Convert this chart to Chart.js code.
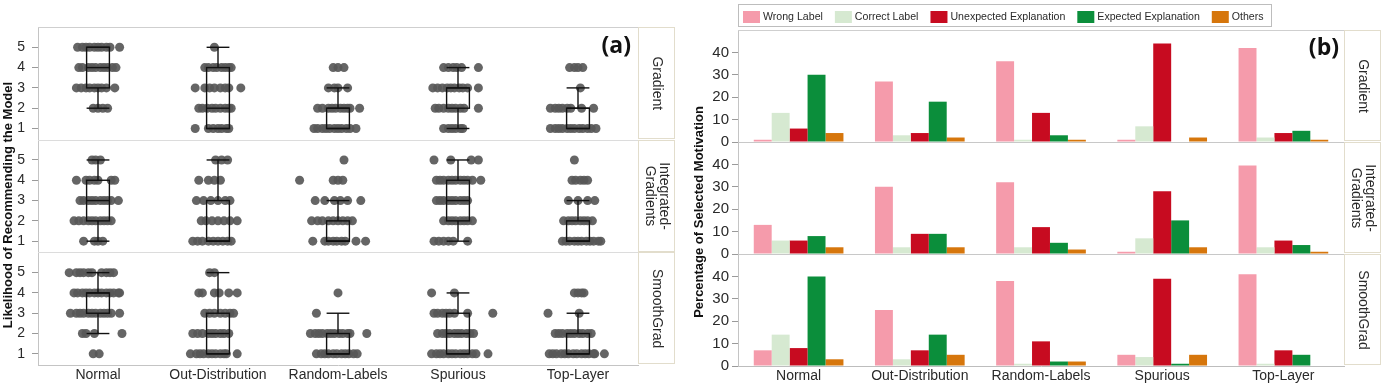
<!DOCTYPE html>
<html><head><meta charset="utf-8">
<script src="https://cdn.jsdelivr.net/npm/chart.js@4.4.1/dist/chart.umd.min.js"></script>
<style>
html,body{margin:0;padding:0;background:#fff;}
#wrap{position:relative;width:1383px;height:384px;overflow:hidden;background:#fff;}
#left{position:absolute;left:0;top:0;}
#right{position:absolute;left:690px;top:0;}
</style></head><body>
<div id="wrap"><canvas id="left" width="690" height="384"></canvas><canvas id="right" width="693" height="384"></canvas></div>
<script>
// ---------------- data ----------------
const categories = ['Normal', 'Out-Distribution', 'Random-Labels', 'Spurious', 'Top-Layer'];
const methods = ['Gradient', 'Integrated-Gradients', 'SmoothGrad'];
const methodStripLabels = [['Gradient'], ['Integrated-', 'Gradients'], ['SmoothGrad']];
const likertTicks = [1, 2, 3, 4, 5];
const pctTicks = [0, 10, 20, 30, 40];
const motivations = ['Wrong Label', 'Correct Label', 'Unexpected Explanation', 'Expected Explanation', 'Others'];
const motivationColors = ['#f59bab', '#d6e9d1', '#c70b20', '#0b8e3b', '#d6760c'];

// percentage of selected motivation: rows = motivation, columns = category
const pctGradient = [
  [1, 27, 36, 1, 42],
  [13, 3, 1, 7, 2],
  [6, 4, 13, 44, 4],
  [30, 18, 3, 0, 5],
  [4, 2, 1, 2, 1]
];
const pctIntegrated = [
  [13, 30, 32, 1, 39.5],
  [6, 3, 3, 7, 3],
  [6, 9, 12, 28, 6],
  [8, 9, 5, 15, 4],
  [3, 3, 2, 3, 1]
];
const pctSmooth = [
  [7, 25, 38, 5, 41],
  [14, 3, 1, 4, 1],
  [8, 7, 11, 39, 7],
  [40, 14, 2, 1, 5],
  [3, 5, 2, 5, 0]
];

// box plot stats per category: [whisker low, q1, median, q3, whisker high]
const boxGradient = [[2, 3, 4, 5, 5], [1, 1, 2, 4, 5], [1, 1, 2, 2, 3], [1, 2, 3, 3, 4], [1, 1, 2, 2, 3]];
const boxIntegrated = [[1, 2, 3, 4, 5], [1, 1, 1, 3, 5], [1, 1, 1, 2, 3], [1, 2, 3, 4, 5], [1, 1, 1, 2, 3]];
const boxSmooth = [[2, 3, 4, 4, 5], [1, 1, 2, 3, 5], [1, 1, 1, 2, 3], [1, 1, 2, 3, 4], [1, 1, 1, 2, 3]];

// individual ratings: per category, per rating level (1..5), horizontal jitter in hundredths of a category
const jitterGradient = [
  [[], [-4, 0, 4, 8], [-18, -14, -10, -7, -3, 0, 3, 7, 14], [-16, -13, -8, -5, -2, 2, 5, 8, 12, 15], [-17, -13, -10, -7, -3, 0, 3, 7, 10, 18]],
  [[-19, -8, -4, 0, 3, 7, 9], [-16, -13, -9, -5, -2, 2, 6, 9, 11], [-19, -11, -7, -3, 2, 6, 9, 19], [-11, -8, -4, -1, 3, 6, 9, 11], [-3]],
  [[-20, -17, -13, -10, -7, -3, 0, 3, 7, 10, 15], [-17, -13, -8, -5, -2, 2, 5, 8, 10, 18], [-8, -3, 0, 8], [-4, 0, 5], []],
  [[-12, -8, -5, -2, 2, 4], [-19, -16, -12, -8, -5, -2, 2, 5, 17], [-21, -17, -13, -9, -6, -3, 1, 4, 8, 17], [-12, -8, -4, -1, 3, 17], []],
  [[-23, -19, -16, -13, -9, -6, -3, 1, 4, 8, 11, 15], [-23, -19, -16, -13, -9, -6, 3, 13], [2], [-7, -3, 0, 4], []]
];
const jitterIntegrated = [
  [[-12, -3, 0, 4], [-20, -16, -12, -8, -5, -2, 2, 5, 8, 11], [-15, -12, -8, -5, -2, 2, 5, 8, 11, 17], [-18, -10, -7, -3, 0, 11, 14], [-5, -2, 2]],
  [[-21, -17, -13, -8, -4, 0, 4, 8, 11], [-14, -10, -5, 0, 5, 10, 16], [-18, -12, -6, 0, 6, 10], [-16, -8, -3, 2], [-2, 3, 8]],
  [[-21, -11, -8, -4, -1, 3, 6, 15, 23], [-22, -17, -13, -8, -4, 0, 4, 8, 12], [-19, -11, -3, 2, 8, 19], [-32, -4, 0, 4], [5]],
  [[-20, -16, -12, -8, -4, 8], [-12, -8, -5, -2, 2, 5, 8, 12], [-18, -15, -12, -8, -5, -2, 2, 5, 8], [-18, -15, -12, -8, -5, -2, 2, 5, 8, 12, 19], [-20, -6, 11, 17]],
  [[-13, -10, -7, -3, 0, 3, 7, 10, 13, 17, 19], [-12, -8, -5, -2, 2, 5, 8, 12], [-8, 0, 8, 14], [-5, -2, 2, 5, 8], [-3]]
];
const jitterSmooth = [
  [[-4, 1], [-13, -10, -3, 20], [-23, -18, -15, -12, -8, -5, -2, 2, 5, 8, 11, 18], [-20, -17, -13, -10, -7, -3, 0, 3, 7, 10, 13, 17, 18], [-24, -18, -15, -12, -8, -5, 3, 7, 10, 13]],
  [[-23, -18, -15, -12, -8, -5, -2, 2, 5, 7, 16], [-21, -17, -13, -8, -5, -2, 2, 5, 9], [-11, -7, -3, 2, 6, 10, 13], [-16, -13, -3, 1, 9, 16], [-7, -3]],
  [[-18, -14, -11, -8, -4, -1, 3, 6, 9, 13, 16], [-23, -19, -16, -13, -9, -6, -3, 1, 4, 8, 10, 24], [-18], [0], []],
  [[-22, -18, -15, -12, -8, -5, -2, 2, 5, 8, 12, 15, 25], [-17, -13, -10, -7, -3, 0, 3, 7, 10, 13], [-20, -17, -13, -10, -7, -3, 8, 29], [-22, -3], []],
  [[-24, -21, -18, -14, -11, -8, -4, -1, 3, 6, 9, 13, 14, 22], [-19, -16, -13, -9, -6, -3, 1, 4, 8, 11], [-25, 1], [-3, 0, 3, 5], []]
];

const pctTables = [pctGradient, pctIntegrated, pctSmooth];
const boxTables = [boxGradient, boxIntegrated, boxSmooth];
const jitterTables = [jitterGradient, jitterIntegrated, jitterSmooth];

// ---------------- style ----------------
const FONT = '"Liberation Sans", Arial, Helvetica, sans-serif';
const TXT = '#2a2a2a';
const rowIds = ['y0', 'y1', 'y2'];

function hline(ctx, x0, x1, y) { ctx.beginPath(); ctx.moveTo(x0, y); ctx.lineTo(x1, y); ctx.stroke(); }
function vline(ctx, x, y0, y1) { ctx.beginPath(); ctx.moveTo(x, y0); ctx.lineTo(x, y1); ctx.stroke(); }

const decor = {
  id: 'decor',
  afterDraw(chart, args, o) {
    const ctx = chart.ctx, ca = chart.chartArea;
    ctx.save();
    ctx.lineWidth = 1;
    // row separators
    ctx.strokeStyle = o.sepColor;
    rowIds.slice(0, -1).forEach(id => hline(ctx, ca.left, ca.right, Math.round(chart.scales[id].bottom) + 0.5));
    // top frame
    ctx.strokeStyle = '#cfcfcf';
    hline(ctx, ca.left, ca.right, Math.round(ca.top) + 0.5);
    // strips
    rowIds.forEach((id, i) => {
      const s = chart.scales[id];
      const x0 = Math.round(ca.right) + 0.5, w = o.stripWidth;
      ctx.strokeStyle = '#e2ddcc';
      ctx.strokeRect(x0, Math.round(s.top) + 0.5, w, Math.round(s.bottom - s.top) - 2);
      ctx.save();
      ctx.translate(x0 + w / 2, (s.top + s.bottom) / 2);
      ctx.rotate(Math.PI / 2);
      ctx.fillStyle = TXT;
      ctx.font = '14px ' + FONT;
      ctx.textAlign = 'center';
      ctx.textBaseline = 'middle';
      const lines = methodStripLabels[i];
      lines.forEach((t, k) => ctx.fillText(t, 0, (k - (lines.length - 1) / 2) * 14));
      ctx.restore();
    });
    // panel label
    ctx.fillStyle = '#111';
    ctx.font = 'bold 23px "Open Sans", ' + FONT;
    ctx.textAlign = 'right';
    ctx.textBaseline = 'middle';
    ctx.fillText(o.panel, ca.right - o.panelDx, ca.top + o.panelDy);
    // y title
    ctx.save();
    ctx.translate(o.titleX, o.titleY);
    ctx.rotate(-Math.PI / 2);
    ctx.font = 'bold 13px ' + FONT;
    ctx.fillStyle = '#111';
    ctx.textAlign = 'center';
    ctx.textBaseline = 'middle';
    ctx.fillText(o.title, 0, 0);
    ctx.restore();
    // legend
    if (o.legend) {
      ctx.font = '10.6px ' + FONT;
      ctx.textAlign = 'left';
      ctx.textBaseline = 'middle';
      const start = Math.round(ca.left);
      let x = start + 5;
      const cy = 17;
      motivations.forEach((t, i) => {
        ctx.fillStyle = motivationColors[i];
        ctx.fillRect(x, cy - 6, 17, 12);
        x += 20;
        ctx.fillStyle = TXT;
        ctx.fillText(t, x, cy);
        x += ctx.measureText(t).width + 12;
      });
      const end = x - 12 + 7;
      ctx.strokeStyle = '#bdbdbd';
      ctx.strokeRect(start + 0.5, 4.5, Math.round(end - start), 22);
    }
    ctx.restore();
  }
};

const boxPlot = {
  id: 'boxPlot',
  afterDatasetsDraw(chart) {
    const ctx = chart.ctx, xs = chart.scales.x;
    const half = (xs.getPixelForValue(1) - xs.getPixelForValue(0)) * 0.095;
    ctx.save();
    ctx.strokeStyle = '#111';
    ctx.lineWidth = 1.4;
    boxTables.forEach((tab, m) => {
      const ys = chart.scales[rowIds[m]];
      tab.forEach((st, c) => {
        const cx = xs.getPixelForValue(c);
        const [lo, q1, med, q3, hi] = st.map(v => ys.getPixelForValue(v));
        ctx.strokeRect(cx - half, q3, half * 2, q1 - q3);
        hline(ctx, cx - half, cx + half, med);
        vline(ctx, cx, q3, hi);
        vline(ctx, cx, q1, lo);
        hline(ctx, cx - half, cx + half, hi);
        hline(ctx, cx - half, cx + half, lo);
      });
    });
    ctx.restore();
  }
};

function rowAxis(i, min, max, ticks, width, tickFont, pad, weight) {
  return {
    type: 'linear', position: 'left', stack: 'rows', stackWeight: 1, weight: weight,
    min: min, max: max, stacked: false,
    grid: { display: true, drawOnChartArea: false, drawTicks: true, tickLength: 6, color: '#9a9a9a' },
    border: { display: true, color: '#c4c4c4' },
    ticks: { font: { size: tickFont, family: FONT }, color: TXT, padding: pad, autoSkip: false },
    afterBuildTicks: s => { s.ticks = ticks.map(v => ({ value: v })); },
    afterFit: s => { s.width = width; }
  };
}

// ---------------- left panel ----------------
const leftDatasets = methods.map((m, i) => {
  const pts = [];
  jitterTables[i].forEach((cat, c) => cat.forEach((offs, lv) => offs.forEach(o => pts.push({ x: c + o / 100, y: likertTicks[lv] }))));
  return {
    label: m, data: pts, yAxisID: rowIds[i],
    pointRadius: 4.5, pointHoverRadius: 4.5, pointBackgroundColor: 'rgba(88,88,88,0.92)', pointBorderWidth: 0, showLine: false
  };
});
const leftScales = {
  x: {
    type: 'linear', position: 'bottom', min: -0.5, max: 4.5,
    grid: { display: false, drawTicks: false }, border: { display: true, color: '#c4c4c4' },
    ticks: { font: { size: 14, family: FONT }, color: TXT, padding: 2, autoSkip: false, maxRotation: 0, callback: v => categories[v] },
    afterBuildTicks: s => { s.ticks = categories.map((_, i) => ({ value: i })); },
    afterFit: s => { s.height = 19; }
  }
};
rowIds.forEach((id, i) => { leftScales[id] = rowAxis(i, 0.45, 6.0, likertTicks, 38, 14, 7, 3 - i); });

new Chart(document.getElementById('left'), {
  type: 'scatter',
  data: { datasets: leftDatasets },
  options: {
    responsive: false, animation: false, devicePixelRatio: 1,
    layout: { padding: { left: 0, top: 27, right: 52, bottom: 0 } },
    plugins: {
      legend: { display: false }, tooltip: { enabled: false },
      decor: { sepColor: '#dcdcdc', stripWidth: 36, panel: '(a)', panelDx: 7, panelDy: 19, title: 'Likelihood of Recommending the Model', titleX: 8, titleY: 205 }
    },
    scales: leftScales
  },
  plugins: [boxPlot, decor]
});

// ---------------- right panel ----------------
const rightDatasets = [];
methods.forEach((m, i) => {
  motivations.forEach((mot, s) => {
    rightDatasets.push({
      label: mot, data: pctTables[i][s], yAxisID: rowIds[i], stack: mot,
      backgroundColor: motivationColors[s], borderWidth: 0,
      categoryPercentage: 0.74, barPercentage: 1.0
    });
  });
});
const rightScales = {
  x: {
    type: 'category', position: 'bottom',
    grid: { display: false, drawTicks: false }, border: { display: true, color: '#bdbdbd' },
    ticks: { font: { size: 14, family: FONT }, color: TXT, padding: 2, autoSkip: false, maxRotation: 0 },
    afterFit: s => { s.height = 18; }
  }
};
rowIds.forEach((id, i) => { rightScales[id] = rowAxis(i, 0, 50, pctTicks, 48, 15, 3, 3 - i); });

new Chart(document.getElementById('right'), {
  type: 'bar',
  data: { labels: categories, datasets: rightDatasets },
  options: {
    responsive: false, animation: false, devicePixelRatio: 1,
    layout: { padding: { left: 0, top: 30, right: 39, bottom: 0 } },
    plugins: {
      legend: { display: false }, tooltip: { enabled: false },
      decor: { sepColor: '#c8c8c8', stripWidth: 36, panel: '(b)', panelDx: 5, panelDy: 18, title: 'Percentage of Selected Motivation', titleX: 9, titleY: 212, legend: true }
    },
    scales: rightScales
  },
  plugins: [decor]
});
</script>
</body></html>
